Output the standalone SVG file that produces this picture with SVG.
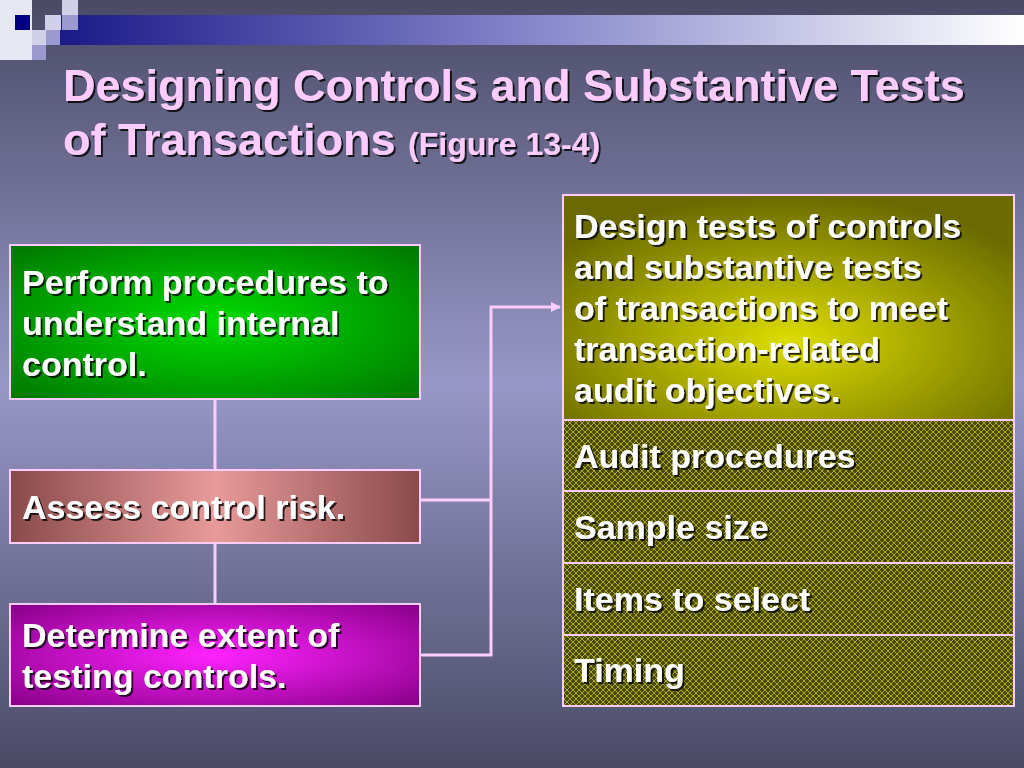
<svg xmlns="http://www.w3.org/2000/svg" width="1024" height="768" viewBox="0 0 1024 768">
<defs>
<linearGradient id="bg" x1="0" y1="0" x2="0" y2="1">
<stop offset="0" stop-color="#4a4a66"/><stop offset="0.5" stop-color="#9898c8"/><stop offset="1" stop-color="#4a4a66"/>
</linearGradient>
<linearGradient id="bar" x1="0" y1="0" x2="1" y2="0">
<stop offset="0" stop-color="#1a1a88"/><stop offset="0.5" stop-color="#8888cc"/><stop offset="1" stop-color="#ffffff"/>
</linearGradient>
<radialGradient id="gGreen" cx="0.5" cy="0.5" r="0.7"><stop offset="0" stop-color="#00dd00"/><stop offset="1" stop-color="#007700"/></radialGradient>
<linearGradient id="gRed" x1="0" y1="0" x2="1" y2="0"><stop offset="0" stop-color="#8a4a4a"/><stop offset="0.5" stop-color="#e89a9a"/><stop offset="1" stop-color="#8a4a4a"/></linearGradient>
<radialGradient id="gMag" cx="0.5" cy="0.5" r="0.7"><stop offset="0" stop-color="#ff22ff"/><stop offset="1" stop-color="#880088"/></radialGradient>
<radialGradient id="gOlive" cx="0.5" cy="0.65" r="0.65"><stop offset="0" stop-color="#dddd00"/><stop offset="1" stop-color="#6a6a00"/></radialGradient>
<pattern id="pat" width="6" height="6" patternUnits="userSpaceOnUse">
<rect width="6" height="6" fill="#4a4a00"/><path d="M0 3L3 0L6 3L3 6Z" fill="none" stroke="#aaaa22" stroke-width="1"/>
</pattern>
<filter id="sh" x="-5%" y="-20%" width="110%" height="140%"><feDropShadow dx="2" dy="2" stdDeviation="0.5" flood-color="#000" flood-opacity="0.8"/></filter>
<marker id="arr" markerWidth="10" markerHeight="10" refX="9" refY="5" orient="auto" markerUnits="userSpaceOnUse"><path d="M0 0L10 5L0 10Z" fill="#ffccff"/></marker>
</defs>
<style>
.t{font-family:"Liberation Sans",Arial,sans-serif;font-weight:bold;fill:#fff;font-size:34px;filter:url(#sh)}
.ttl{font-family:"Liberation Sans",Arial,sans-serif;font-weight:bold;fill:#ffccff;font-size:45px;filter:url(#sh)}
.box{stroke:#ffccff;stroke-width:2}
.ln{stroke:#ffccff;stroke-width:3;fill:none}
</style>
<rect width="1024" height="768" fill="url(#bg)"/>
<rect x="60" y="15" width="964" height="30" fill="url(#bar)"/>
<rect x="0" y="0" width="32" height="60" fill="#e8e8f4"/>
<rect x="62" y="0" width="16" height="15" fill="#d0d0e8"/>
<rect x="45" y="15" width="16" height="15" fill="#d0d0e8"/>
<rect x="62" y="15" width="16" height="15" fill="#9a9ad0"/>
<rect x="32" y="30" width="14" height="15" fill="#d0d0e8"/>
<rect x="46" y="30" width="14" height="15" fill="#9a9ad0"/>
<rect x="32" y="45" width="14" height="15" fill="#9a9ad0"/>
<rect x="15" y="15" width="15" height="15" fill="#000080"/>
<text class="ttl" x="63" y="101">Designing Controls and Substantive Tests</text>
<text class="ttl" x="63" y="155">of Transactions <tspan font-size="32">(Figure 13-4)</tspan></text>
<g id="connectors">
<line class="ln" x1="215" y1="400" x2="215" y2="470"/>
<line class="ln" x1="215" y1="543" x2="215" y2="604"/>
<polyline class="ln" points="420,500 491,500"/>
<polyline class="ln" points="420,655 491,655 491,307 560,307" marker-end="url(#arr)"/>
</g>
<g id="n1"><rect class="box" x="10" y="245" width="410" height="154" fill="url(#gGreen)"/>
<text class="t" x="22" y="294">Perform procedures to</text><text class="t" x="22" y="335">understand internal</text><text class="t" x="22" y="376">control.</text></g>
<g id="n2"><rect class="box" x="10" y="470" width="410" height="73" fill="url(#gRed)"/>
<text class="t" x="22" y="519">Assess control risk.</text></g>
<g id="n3"><rect class="box" x="10" y="604" width="410" height="102" fill="url(#gMag)"/>
<text class="t" x="22" y="647">Determine extent of</text><text class="t" x="22" y="688">testing controls.</text></g>
<g id="n4"><rect class="box" x="563" y="195" width="451" height="225" fill="url(#gOlive)"/>
<text class="t" x="574" y="238">Design tests of controls</text><text class="t" x="574" y="279">and substantive tests</text><text class="t" x="574" y="320">of transactions to meet</text><text class="t" x="574" y="361">transaction-related</text><text class="t" x="574" y="402">audit objectives.</text></g>
<g id="n5"><rect class="box" x="563" y="420" width="451" height="71" fill="url(#pat)"/><text class="t" x="574" y="468">Audit procedures</text></g>
<g id="n6"><rect class="box" x="563" y="491" width="451" height="72" fill="url(#pat)"/><text class="t" x="574" y="539">Sample size</text></g>
<g id="n7"><rect class="box" x="563" y="563" width="451" height="72" fill="url(#pat)"/><text class="t" x="574" y="611">Items to select</text></g>
<g id="n8"><rect class="box" x="563" y="635" width="451" height="71" fill="url(#pat)"/><text class="t" x="574" y="682">Timing</text></g>
</svg>
